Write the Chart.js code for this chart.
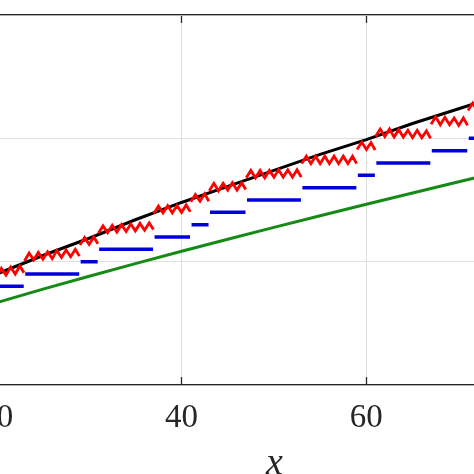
<!DOCTYPE html>
<html>
<head>
<meta charset="utf-8">
<script src="https://cdn.jsdelivr.net/npm/chart.js@4.4.1/dist/chart.umd.min.js"></script>
<style>
  html, body { margin: 0; padding: 0; background: #fff; overflow: hidden; width: 474px; height: 474px; }
  #marco { position: absolute; left: -42px; top: 0; width: 628px; height: 474px; }
</style>
</head>
<body>
<div id="marco"><canvas id="grafico"></canvas></div>
<script>
// Primos y pi(x) (escalones azules)
const primos = [13, 17, 19, 23, 29, 31, 37, 41, 43, 47, 53, 59, 61, 67, 71, 73, 79];
const cuentaPi = [6, 7, 8, 9, 10, 11, 12, 13, 14, 15, 16, 17, 18, 19, 20, 21, 22];

// Marcas del eje x
const marcasX = [20, 40, 60];

// Curvas continuas
const curvaX = [16, 20, 25, 30, 35, 40, 45, 50, 55, 60, 65, 70, 75, 77];
const curvaNegra = [7.8, 9.0, 10.5, 11.9, 13.4, 14.8, 16.1, 17.4, 18.7, 19.9, 21.2, 22.4, 23.6, 24.1];
const curvaVerde = [5.77, 6.68, 7.77, 8.82, 9.84, 10.84, 11.82, 12.78, 13.72, 14.65, 15.57, 16.48, 17.37, 17.73];

// Tramos rojos en zigzag (null separa un tramo del siguiente)
const rojoX = [
  19, 19.5, 20, 20.5, 21, 21.5, 22, 22.5, 22.95, 23,
  23, 23.5, 24, 24.5, 25, 25.5, 26, 26.5, 27, 27.5, 28, 28.5, 28.95, 29,
  29, 29.5, 30, 30.5, 30.95, 31,
  31, 31.5, 32, 32.5, 33, 33.5, 34, 34.5, 35, 35.5, 36, 36.5, 36.95, 37,
  37, 37.5, 38, 38.5, 39, 39.5, 40, 40.5, 40.95, 41,
  41, 41.5, 42, 42.5, 42.95, 43,
  43, 43.5, 44, 44.5, 45, 45.5, 46, 46.5, 46.95, 47,
  47, 47.5, 48, 48.5, 49, 49.5, 50, 50.5, 51, 51.5, 52, 52.5, 52.95, 53,
  53, 53.5, 54, 54.5, 55, 55.5, 56, 56.5, 57, 57.5, 58, 58.5, 58.95, 59,
  59, 59.5, 60, 60.5, 60.95, 61,
  61, 61.5, 62, 62.5, 63, 63.5, 64, 64.5, 65, 65.5, 66, 66.5, 66.95, 67,
  67, 67.5, 68, 68.5, 69, 69.5, 70, 70.5, 70.95, 71,
  71, 71.5, 72, 72.5, 72.95
];
const rojoY = [
  8.7, 9.35, 8.8, 9.45, 8.9, 9.55, 9.0, 9.65, 9.1, null,
  10.05, 10.7, 10.15, 10.75, 10.2, 10.8, 10.25, 10.9, 10.35, 10.95, 10.4, 11.0, 10.45, null,
  11.35, 11.95, 11.4, 12.0, 11.45, null,
  12.3, 12.9, 12.35, 12.95, 12.4, 13.0, 12.45, 13.05, 12.5, 13.1, 12.55, 13.15, 12.6, null,
  13.9, 14.5, 13.95, 14.55, 13.95, 14.55, 14.0, 14.6, 14.05, null,
  14.85, 15.45, 14.9, 15.5, 14.9, null,
  15.75, 16.35, 15.75, 16.35, 15.8, 16.4, 15.8, 16.4, 15.85, null,
  16.8, 17.4, 16.8, 17.4, 16.8, 17.4, 16.85, 17.45, 16.85, 17.45, 16.85, 17.45, 16.85, null,
  17.95, 18.55, 17.95, 18.55, 17.95, 18.55, 17.95, 18.55, 17.95, 18.55, 17.95, 18.55, 17.95, null,
  19.1, 19.7, 19.1, 19.65, 19.05, null,
  20.15, 20.75, 20.15, 20.75, 20.1, 20.7, 20.1, 20.65, 20.05, 20.65, 20.05, 20.6, 20.0, null,
  21.15, 21.75, 21.1, 21.7, 21.1, 21.65, 21.05, 21.65, 21.05, null,
  22.25, 22.85, 22.25, 22.85, 22.25
];

const tinta = '#262626';
const rejilla = '#dfdfdf';
const fuente = 'Liberation Serif';

// Escalones azules: un tramo horizontal por cada hueco entre primos
const escalones = [];
for (let i = 0; i < primos.length - 1; i++) {
  escalones.push({ x: primos[i] + 0.08, y: cuentaPi[i] });
  escalones.push({ x: primos[i + 1] - 0.08, y: cuentaPi[i] });
  escalones.push({ x: primos[i + 1], y: null });
}

const fijarMarcas = (s) => { s.ticks = marcasX.map(v => ({ value: v })); };

const ctx = document.getElementById('grafico').getContext('2d');
new Chart(ctx, {
  type: 'line',
  data: {
    datasets: [
      {
        data: rojoX.map((x, i) => ({ x, y: rojoY[i] })),
        borderColor: '#ff0000', borderWidth: 2.8, spanGaps: false
      },
      {
        data: curvaX.map((x, i) => ({ x, y: curvaNegra[i] })),
        borderColor: '#000000', borderWidth: 3
      },
      {
        data: escalones,
        borderColor: '#0000dd', borderWidth: 3.5, borderCapStyle: 'butt', spanGaps: false
      },
      {
        data: curvaX.map((x, i) => ({ x, y: curvaVerde[i] })),
        borderColor: '#168a16', borderWidth: 3
      }
    ]
  },
  options: {
    responsive: true,
    maintainAspectRatio: false,
    animation: false,
    layout: { padding: { top: 15, left: 0, right: 0, bottom: 0 } },
    elements: { point: { radius: 0 }, line: { tension: 0 } },
    plugins: { legend: { display: false }, tooltip: { enabled: false } },
    scales: {
      x: {
        type: 'linear', position: 'bottom', min: 16.32, max: 83.77,
        afterBuildTicks: fijarMarcas,
        ticks: { color: tinta, padding: 22, maxRotation: 0, autoSkip: false,
                 font: { family: fuente, size: 33 } },
        grid: { color: rejilla, lineWidth: 1, tickLength: -8, tickColor: tinta, tickWidth: 1.3 },
        border: { color: tinta, width: 1.3 },
        title: { display: true, text: 'x', color: tinta, padding: 0,
                 font: { family: fuente, size: 38, style: 'italic', lineHeight: 0.5 } },
        afterFit: (s) => { s.height = 89; }
      },
      arriba: {
        type: 'linear', position: 'top', min: 16.32, max: 83.77,
        afterBuildTicks: fijarMarcas,
        ticks: { display: false },
        grid: { drawOnChartArea: false, tickLength: -8, tickColor: tinta, tickWidth: 1.3 },
        border: { color: tinta, width: 1.3 },
        afterFit: (s) => { s.height = 0; }
      },
      y: {
        type: 'linear', min: 0, max: 30,
        ticks: { stepSize: 10, display: false },
        grid: { color: rejilla, lineWidth: 1, drawTicks: false },
        border: { display: false },
        afterFit: (s) => { s.width = 0; }
      }
    }
  }
});
</script>
</body>
</html>
